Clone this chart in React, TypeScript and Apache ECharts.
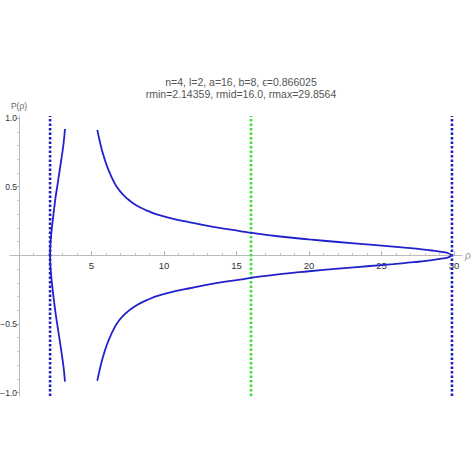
import * as echarts from "echarts";
import { useEffect, useRef } from "react";

// turning points and middle radius
const rMin = 2.14359;
const rMid = 16.0;
const rMax = 29.8564;

// inner branch
const innerRho = [2.14359, 2.16, 2.19, 2.23, 2.3, 2.4, 2.52, 2.65, 2.8, 2.95, 3.08, 3.17];
const innerUpper = [0, 0.06, 0.11, 0.16, 0.23, 0.32, 0.42, 0.51, 0.615, 0.72, 0.82, 0.92];
const innerLower = [0, -0.06, -0.11, -0.16, -0.23, -0.32, -0.42, -0.51, -0.615, -0.72, -0.82, -0.92];

// outer branch
const outerRho = [
  5.4, 5.55, 5.7, 5.85, 6.05, 6.3, 6.5, 6.8, 7.19, 7.5, 7.8, 8.34, 9.0, 9.5, 10.64, 11.79,
  13.5, 15.24, 16.0, 18.0, 20.0, 22.0, 24.2, 25.8, 27.0, 27.66, 28.5, 29.26, 29.6, 29.8564,
];
const outerUpper = [
  0.914, 0.84, 0.775, 0.72, 0.655, 0.59, 0.545, 0.49, 0.44, 0.41, 0.385, 0.35, 0.318, 0.298,
  0.265, 0.24, 0.205, 0.177, 0.164, 0.137, 0.116, 0.097, 0.078, 0.064, 0.052, 0.045, 0.035,
  0.023, 0.015, 0,
];
const outerLower = [
  -0.914, -0.84, -0.775, -0.72, -0.655, -0.59, -0.545, -0.49, -0.44, -0.41, -0.385, -0.35,
  -0.318, -0.298, -0.265, -0.24, -0.205, -0.177, -0.164, -0.137, -0.116, -0.097, -0.078,
  -0.064, -0.052, -0.045, -0.035, -0.023, -0.015, 0,
];

const xMajor = [5, 10, 15, 20, 25, 30];
const xMinor = [1, 2, 3, 4, 6, 7, 8, 9, 11, 12, 13, 14, 16, 17, 18, 19, 21, 22, 23, 24, 26, 27, 28, 29];
const yMajor = [-1, -0.5, 0.5, 1];
const yMinor = [-0.9, -0.8, -0.7, -0.6, -0.4, -0.3, -0.2, -0.1, 0.1, 0.2, 0.3, 0.4, 0.6, 0.7, 0.8, 0.9];

const X_MIN = -0.62;
const X_MAX = 30.55;
const Y_MIN = -1.025;
const Y_MAX = 1.015;

// grid box
const G_LEFT = 10;
const G_RIGHT = 12;
const G_TOP = 116;
const G_BOTTOM = 78;
const SIZE = 474;

// shift the axes from the grid edges onto the zero lines
const plotW = SIZE - G_LEFT - G_RIGHT;
const plotH = SIZE - G_TOP - G_BOTTOM;
const X_OFFSET = -(plotH * (0 - Y_MIN)) / (Y_MAX - Y_MIN);
const Y_OFFSET = -(plotW * (0 - X_MIN)) / (X_MAX - X_MIN);

const FONT = "Liberation Sans, Arial, sans-serif";
const CURVE = "#2222cc";
const DASH_BLUE = "#1f1fb8";
const DASH_GREEN = "#3ddf3d";

const pairs = (xs: number[], ys: number[]) => xs.map((x, i) => [x, ys[i]]);

const curve = (data: number[][]) => ({
  type: "line",
  data,
  showSymbol: false,
  smooth: 0.5,
  lineStyle: { color: CURVE, width: 1.8 },
  z: 3,
});

const vline = (x: number, color: string) => ({
  type: "line",
  data: [
    [x, Y_MIN],
    [x, Y_MAX],
  ],
  showSymbol: false,
  lineStyle: { color, width: 2.6, type: [2.5, 2] },
  z: 2,
});

const App = () => {
  const chartRef = useRef(null);

  useEffect(() => {
    document.body.style.margin = "0";
    const chart = echarts.init(chartRef.current, null, { renderer: "svg" });

    const options = {
      animation: false,
      backgroundColor: "#ffffff",
      textStyle: { fontFamily: FONT },
      title: {
        text: "n=4, l=2, a=16, b=8, ϵ=0.866025\nrmin=2.14359, rmid=16.0, rmax=29.8564",
        left: 236,
        top: 71,
        textAlign: "center",
        textStyle: {
          fontFamily: FONT,
          fontSize: 10.5,
          fontWeight: "normal",
          color: "#555555",
          lineHeight: 12,
        },
      },
      grid: {
        left: G_LEFT,
        right: G_RIGHT,
        top: G_TOP,
        bottom: G_BOTTOM,
        outerBoundsMode: "none",
        containLabel: false,
      },
      xAxis: [
        {
          type: "value",
          min: X_MIN,
          max: X_MAX,
          position: "bottom",
          offset: X_OFFSET,
          name: "ρ",
          nameLocation: "end",
          nameGap: 3,
          nameTextStyle: { color: "#999999", fontSize: 10, fontStyle: "italic", fontFamily: FONT },
          axisLine: { onZero: false, lineStyle: { color: "#bbbbbb", width: 1 } },
          axisTick: {
            inside: true,
            length: 4,
            customValues: xMajor,
            lineStyle: { color: "#aaaaaa" },
          },
          axisLabel: {
            customValues: xMajor,
            color: "#333333",
            fontSize: 9.5,
            margin: 5,
            fontFamily: FONT,
          },
          splitLine: { show: false },
        },
        {
          type: "value",
          min: X_MIN,
          max: X_MAX,
          position: "bottom",
          offset: X_OFFSET,
          axisLine: { show: false, onZero: false },
          axisTick: {
            inside: true,
            length: 2,
            customValues: xMinor,
            lineStyle: { color: "#bbbbbb" },
          },
          axisLabel: { show: false },
          splitLine: { show: false },
        },
      ],
      yAxis: [
        {
          type: "value",
          min: Y_MIN,
          max: Y_MAX,
          position: "left",
          offset: Y_OFFSET,
          name: "P(ρ)",
          nameLocation: "end",
          nameGap: 6,
          nameTextStyle: { color: "#666666", fontSize: 8.5, fontFamily: FONT, align: "center" },
          axisLine: { show: true, onZero: false, lineStyle: { color: "#bbbbbb", width: 1 } },
          axisTick: {
            show: true,
            inside: false,
            length: 3,
            customValues: yMajor,
            lineStyle: { color: "#aaaaaa" },
          },
          axisLabel: {
            customValues: yMajor,
            color: "#333333",
            fontSize: 8.5,
            margin: 2,
            fontFamily: FONT,
            formatter: (v: number) => (v < 0 ? "\u2212" + Math.abs(v).toFixed(1) : v.toFixed(1)),
          },
          splitLine: { show: false },
        },
        {
          type: "value",
          min: Y_MIN,
          max: Y_MAX,
          position: "left",
          offset: Y_OFFSET,
          axisLine: { show: false, onZero: false },
          axisTick: {
            show: true,
            inside: false,
            length: 2,
            customValues: yMinor,
            lineStyle: { color: "#cccccc" },
          },
          axisLabel: { show: false },
          splitLine: { show: false },
        },
      ],
      series: [
        vline(rMin, DASH_BLUE),
        vline(rMid, DASH_GREEN),
        vline(rMax, DASH_BLUE),
        curve(pairs(innerRho, innerUpper)),
        curve(pairs(innerRho, innerLower)),
        curve(pairs(outerRho, outerUpper)),
        curve(pairs(outerRho, outerLower)),
      ],
    };

    chart.setOption(options);

    const handleResize = () => chart.resize();
    window.addEventListener("resize", handleResize);

    return () => {
      window.removeEventListener("resize", handleResize);
      chart.dispose();
    };
  }, []);

  return <div ref={chartRef} style={{ width: SIZE + "px", height: SIZE + "px" }} />;
};

export default App;
